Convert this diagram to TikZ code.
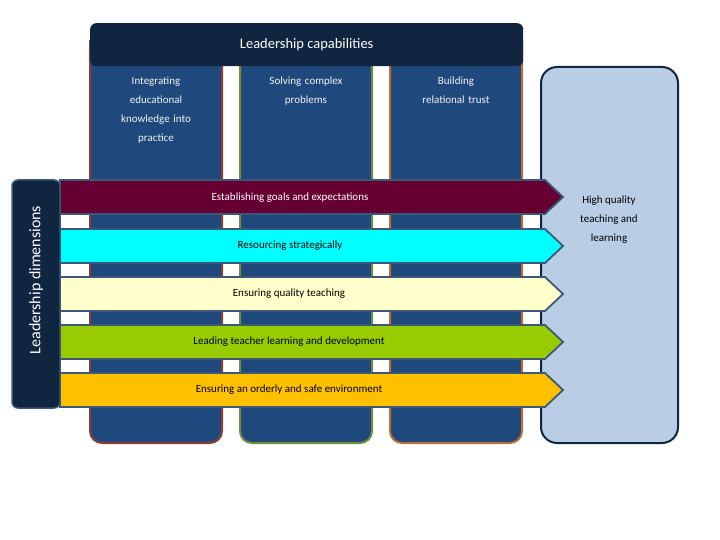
\documentclass[tikz,border=0pt]{standalone}
\usepackage{fontspec}
\setmainfont{Carlito}
\usetikzlibrary{shapes.symbols}
\definecolor{navy}{HTML}{10253F}
\definecolor{colblue}{HTML}{1F497D}
\definecolor{edge}{HTML}{3B5878}
\definecolor{lightbox}{HTML}{B9CDE5}
\begin{document}
\begin{tikzpicture}[x=1pt,y=-1pt,
 col/.style={fill=colblue,line width=2pt,rounded corners=12pt},
 colhead/.style={text=white!95!black,font=\fontsize{11}{19}\selectfont,align=center,anchor=north,text width=120pt},
 arr/.style={draw=edge,line width=1.8pt,line join=miter},
 arrtext/.style={font=\fontsize{11}{13}\selectfont}]
\useasboundingbox (0,0) rectangle (720,540);
% columns
\draw[col,draw={rgb,255:red,140;green,60;blue,55}] (90,40) -- (90,443) -- (222,443) -- (222,40);
\draw[col,draw={rgb,255:red,110;green,140;blue,60}] (240,40) -- (240,443) -- (372,443) -- (372,40);
\draw[col,draw={rgb,255:red,190;green,110;blue,50}] (390,40) -- (390,443) -- (522,443) -- (522,40);
\node[draw=none,fill=navy,rounded corners=6pt,minimum width=433pt,minimum height=43pt,anchor=north west,text=white,font=\fontsize{14.5}{16}\selectfont] (hdr) at (90,23) {Leadership capabilities};
\node[colhead] (c1) at (156,73) {Integrating\\educational\\knowledge into\\practice};
\node[colhead] (c2) at (306,73) {Solving complex\\problems};
\node[colhead] (c3) at (456,73) {Building\\relational trust};
% right box
\draw[fill=lightbox,draw=navy,line width=2pt,rounded corners=16pt] (541,67) rectangle (678,443);
\node[font=\fontsize{11}{19}\selectfont,align=center,anchor=north] (hq) at (609,192) {High quality\\teaching and\\learning};
% arrows
\foreach \y/\c/\t/\tc/\n in {180/{rgb,255:red,102;green,0;blue,51}/Establishing goals and expectations/white/a1,
 229/{rgb,255:red,0;green,255;blue,255}/Resourcing strategically/black/a2,
 277/{rgb,255:red,255;green,255;blue,204}/Ensuring quality teaching/black/a3,
 325/{rgb,255:red,153;green,204;blue,0}/Leading teacher learning and development/black/a4,
 373/{rgb,255:red,255;green,192;blue,0}/Ensuring an orderly and safe environment/black/a5}{
 \draw[arr,fill=\c] (60,\y) -- (545,\y) -- (563,\y+17) -- (545,\y+34) -- (60,\y+34) -- cycle;
}
\node[arrtext,text=white] (t1) at (290,198) {Establishing goals and expectations};
\node[arrtext] (t2) at (290,246) {Resourcing strategically};
\node[arrtext] (t3) at (289,294) {Ensuring quality teaching};
\node[arrtext] (t4) at (289,342) {Leading teacher learning and development};
\node[arrtext] (t5) at (289,390) {Ensuring an orderly and safe environment};
% left box
\draw[fill=navy,draw=edge,line width=1.5pt,rounded corners=6pt] (12,180) rectangle (60,408);
\node[rotate=90,text=white,font=\fontsize{16}{18}\selectfont] (ld) at (36,280) {Leadership dimensions};
\end{tikzpicture}
\end{document}
